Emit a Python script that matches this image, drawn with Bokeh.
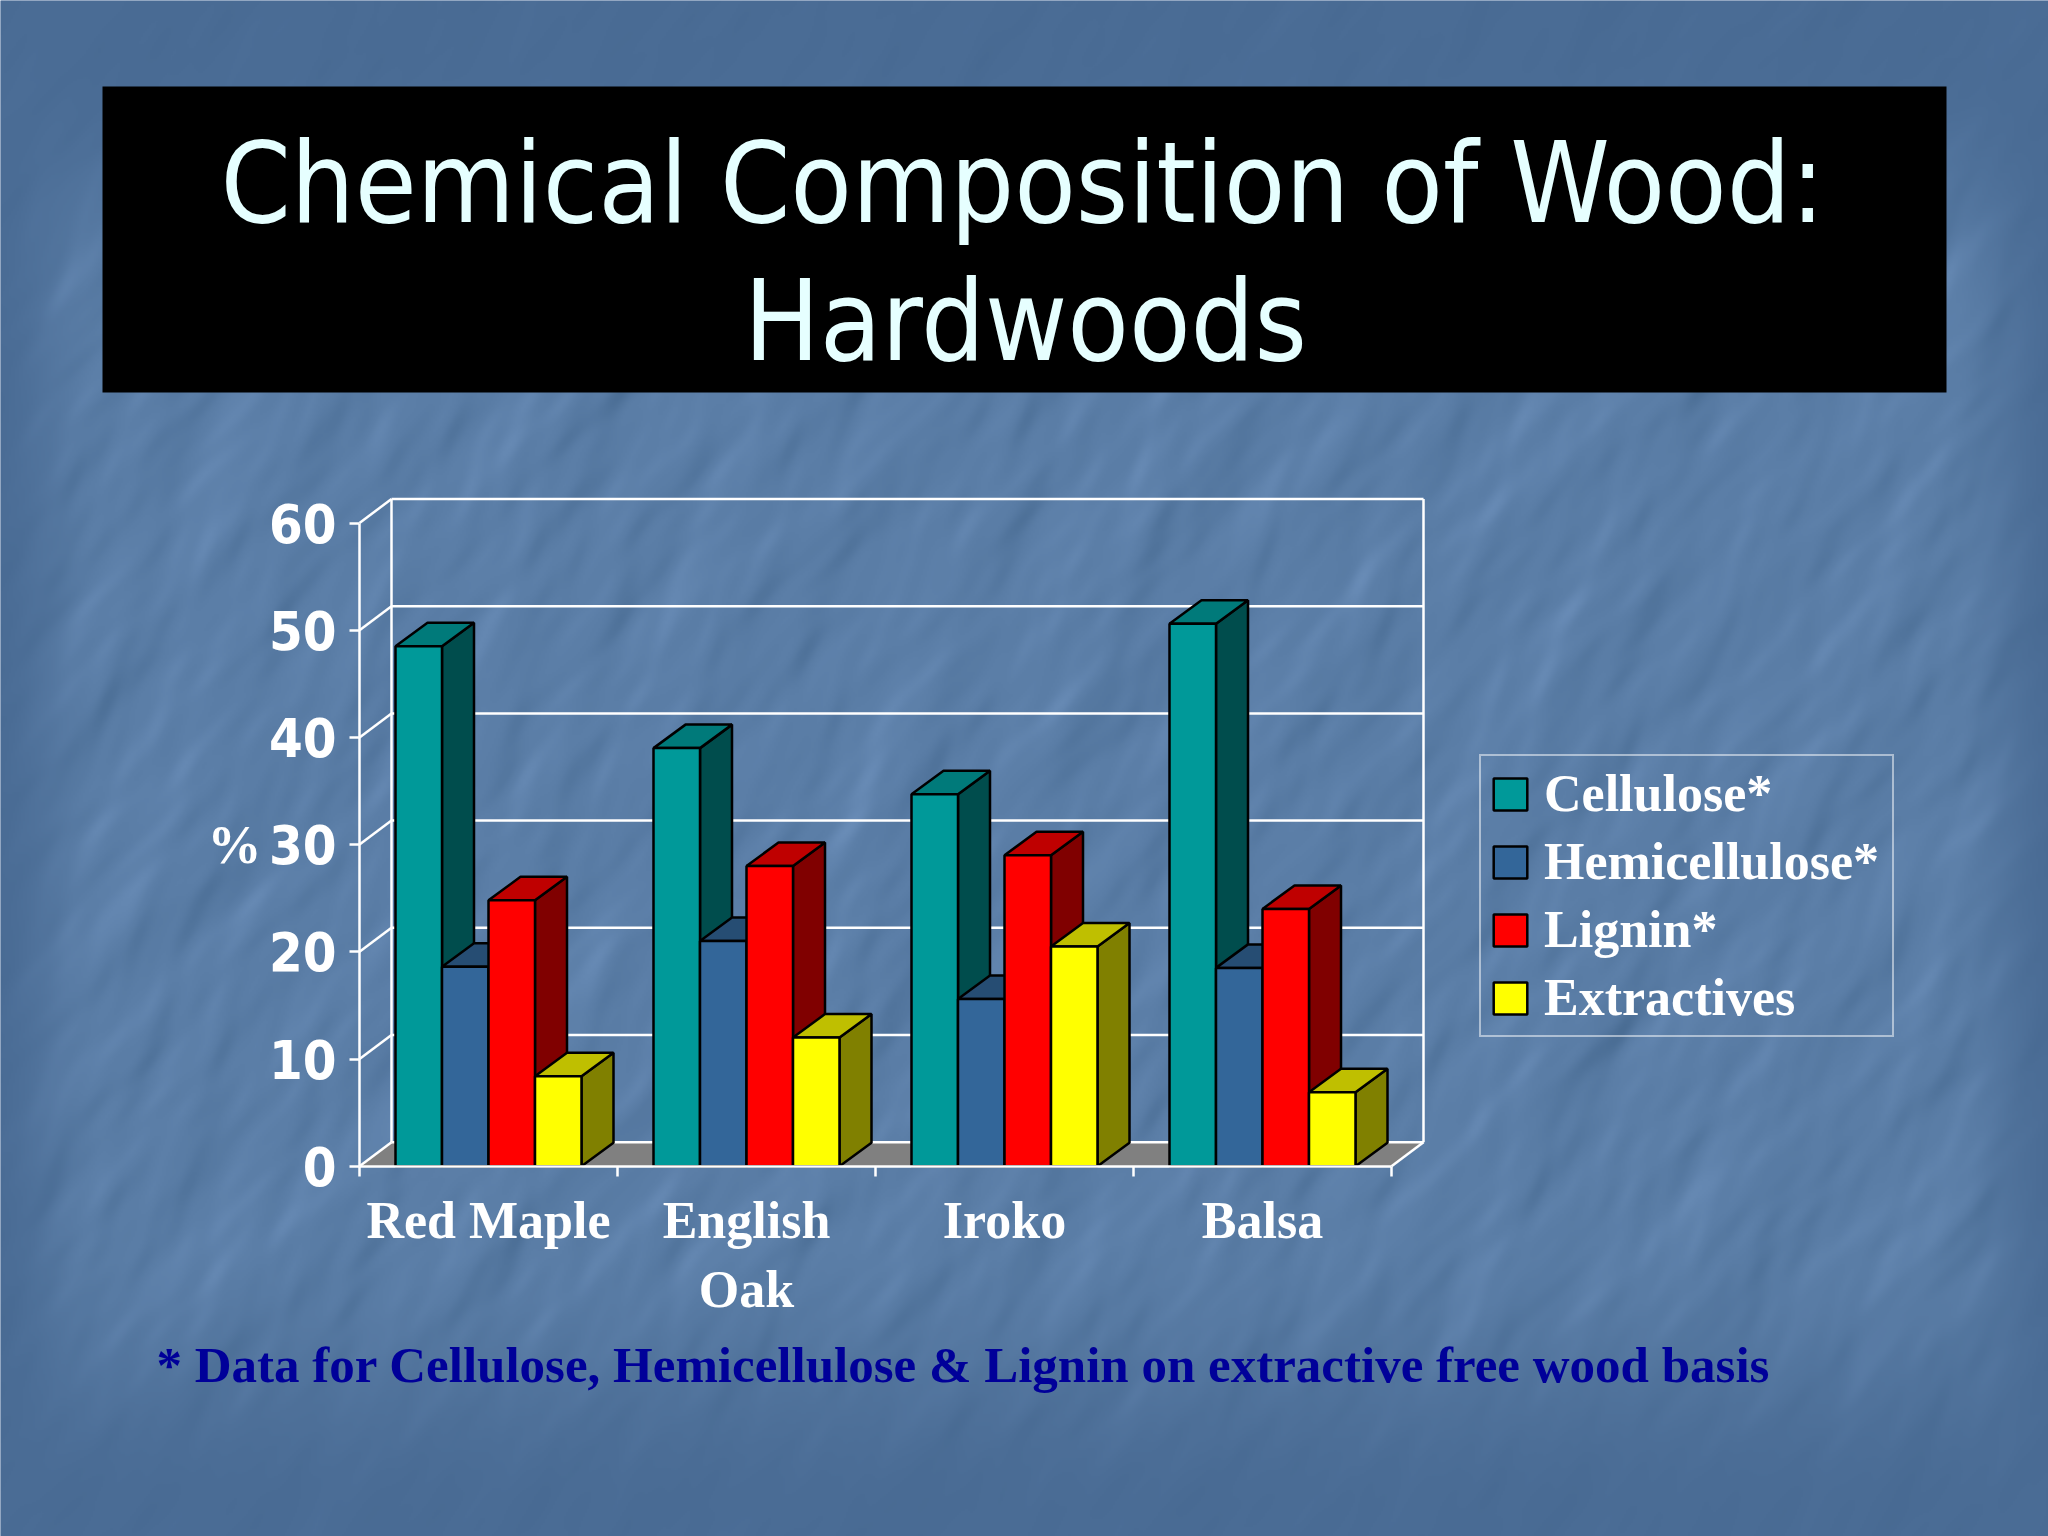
import numpy as np
from bokeh.plotting import figure
from bokeh.embed import file_html
from bokeh.resources import INLINE
from bokeh.core.properties import value
from bokeh.models import Range1d, LinearAxis, FixedTicker, Legend, LegendItem

categories = ["Red Maple", "English\nOak", "Iroko", "Balsa"]
series_names = ["Cellulose*", "Hemicellulose*", "Lignin*", "Extractives"]
cellulose = [48.5, 39.0, 34.7, 50.6]
hemicellulose = [18.6, 21.0, 15.6, 18.5]
lignin = [24.8, 28.0, 29.0, 24.0]
extractives = [8.4, 12.0, 20.5, 6.9]
y_ticks = [0, 10, 20, 30, 40, 50, 60]
title_lines = ["Chemical Composition of Wood:", "Hardwoods"]
footnote = "* Data for Cellulose, Hemicellulose & Lignin on extractive free wood basis"

front_cols = ["#009999", "#336699", "#FF0000", "#FFFF00"]
top_cols = ["#007A7A", "#264D73", "#BF0000", "#BFBF00"]
side_cols = ["#004D4D", "#1A334D", "#800000", "#808000"]

# page-pixel <-> data helpers
X0, XU, Y0, YU = 359.0, 258.0, 1165.7, 10.72
def X(px): return (px - X0) / XU
def Y(py): return (Y0 - py) / YU
DX, DY = 32 / XU, 24 / YU          # 3-D wall depth
BDX, BDY = 32 / XU, 23.5 / YU      # 3-D bar depth
BW = 46.5 / XU
GAP = 36.0 / XU

W, H = 2048, 1536
p = figure(width=W, height=H, output_backend="svg", toolbar_location=None,
           x_range=Range1d(X(0), X(W)), y_range=Range1d(Y(H), Y(0)),
           x_axis_location=None, y_axis_location=None, min_border=0)
p.grid.visible = False
p.outline_line_color = None
p.background_fill_color = "#5A7BA6"
p.border_fill_color = "#5A7BA6"

# textured backdrop: dark border fading into diagonal mottled streaks made of sines
ih, iw = 768, 1024
yy, xx = np.mgrid[0:ih, 0:iw].astype(float)
px, py = xx * 2, yy * 2
def ramp(t):
    t = np.clip(t, 0, 1)
    return t * t * (3 - 2 * t)
lift = (ramp((py - 60) / 260) * ramp((1510 - py) / 280)
        * ramp((px + 10) / 110) * ramp((2058 - px) / 110))
th = np.radians(58)
along = px * np.cos(th) - py * np.sin(th)
across = px * np.sin(th) + py * np.cos(th)
tex = np.zeros_like(px)
for fa, fb, ph, w in [(0.027, 0.0071, 0.3, 0.6), (0.053, 0.0107, 1.9, 0.9), (0.093, 0.019, 4.1, 0.9),
                      (0.151, 0.033, 2.7, 0.7), (0.227, 0.053, 5.3, 0.5)]:
    warp1 = 1.1 * np.sin(along * fb * 0.61 + ph)
    warp2 = 1.3 * np.sin(across * fa * 0.19 + 2 * ph)
    tex += w * np.sin(across * fa + warp1) * np.sin(along * fb + warp2)
tex = tex / 2.0
tex = np.where(tex > 0, tex ** 1.3, -((-tex) ** 1.3))
tex = tex * (0.15 + 0.85 * lift)
rr = 74 + 17 * lift + 9 * tex
gg = 108 + 18 * lift + 9 * tex
bb = 149 + 18 * lift + 10 * tex
img = np.empty((ih, iw), dtype=np.uint32)
view = img.view(dtype=np.uint8).reshape((ih, iw, 4))
view[..., 0] = np.clip(rr, 0, 255)
view[..., 1] = np.clip(gg, 0, 255)
view[..., 2] = np.clip(bb, 0, 255)
view[..., 3] = 255
p.image_rgba(image=[img[::-1]], x=X(0), y=Y(H), dw=W / XU, dh=H / YU, level="image")

# title band
p.quad(left=[X(102)], right=[X(1946)], bottom=[Y(392)], top=[Y(86)],
       fill_color="black", line_color=None, level="underlay")
p.text(x=[X(1022), X(1025)], y=[Y(182), Y(320)], text=title_lines,
       text_color="#E6FFFF", text_font=value("DejaVu Sans Condensed"), text_font_size="112px",
       text_align="center", text_baseline="alphabetic")

# 3-D frame
n = len(categories)
vals = y_ticks
p.patches(xs=[[0, DX, n + DX, n]], ys=[[0, DY, DY, 0]], fill_color="#808080",
          line_color=None, level="underlay")
wall_x = [[DX, n + DX] for t in vals] + [[0, DX] for t in vals] + [[DX, DX], [n + DX, n + DX], [n, n + DX]]
wall_y = [[t + DY, t + DY] for t in vals] + [[t, t + DY] for t in vals] + \
         [[DY, vals[-1] + DY], [DY, vals[-1] + DY], [0, DY]]
p.multi_line(xs=wall_x, ys=wall_y, line_color="white", line_width=2.5, level="underlay")

# bars, left to right so nearer parts cover the ones before
all_series = [cellulose, hemicellulose, lignin, extractives]
renderers = []
for s, (name, data) in enumerate(zip(series_names, all_series)):
    lefts = [i + GAP + s * BW for i in range(n)]
    rights = [l + BW for l in lefts]
    p.patches(xs=[[r, r + BDX, r + BDX, r] for r in rights],
              ys=[[0, BDY, d + BDY, d] for d in data],
              fill_color=side_cols[s], line_color="black", line_width=2.5)
    p.patches(xs=[[l, l + BDX, r + BDX, r] for l, r in zip(lefts, rights)],
              ys=[[d, d + BDY, d + BDY, d] for d in data],
              fill_color=top_cols[s], line_color="black", line_width=2.5)
    renderers.append(p.quad(left=lefts, right=rights, bottom=0, top=data,
                            fill_color=front_cols[s], line_color="black", line_width=2.5))

# axes
yax = LinearAxis(fixed_location=0, ticker=FixedTicker(ticks=y_ticks), bounds=(0, 60))
yax.axis_line_color = "white"; yax.axis_line_width = 2.5
yax.major_tick_line_color = "white"; yax.major_tick_line_width = 2.5
yax.major_tick_in = 0; yax.major_tick_out = 10
yax.minor_tick_line_color = None
yax.major_label_standoff = 13
yax.major_label_text_color = "white"
yax.major_label_text_font = "DejaVu Sans Condensed"
yax.major_label_text_font_style = "bold"
yax.major_label_text_font_size = "54px"
p.add_layout(yax, "left")

xax = LinearAxis(fixed_location=0, bounds=(0, n),
                 ticker=FixedTicker(ticks=[i + 0.5 for i in range(n)], minor_ticks=list(range(n + 1))))
xax.axis_line_color = "white"; xax.axis_line_width = 2.5
xax.major_tick_line_color = None
xax.major_tick_in = 0; xax.major_tick_out = 0
xax.minor_tick_line_color = "white"; xax.minor_tick_line_width = 2.5
xax.minor_tick_in = 0; xax.minor_tick_out = 10
xax.major_label_overrides = {i + 0.5: c for i, c in enumerate(categories)}
xax.major_label_standoff = 16
xax.major_label_text_color = "white"
xax.major_label_text_font = "Liberation Serif"
xax.major_label_text_font_style = "bold"
xax.major_label_text_font_size = "52px"
xax.major_label_orientation = "horizontal"
p.add_layout(xax, "below")

# % label and footnote
p.text(x=[X(234)], y=[30], text=["%"], text_color="white", text_font=value("Liberation Serif"),
       text_font_style="bold", text_font_size="54px", text_align="center", text_baseline="middle")
p.text(x=[X(156)], y=[Y(1364)], text=[footnote], text_color="#000099",
       text_font=value("Liberation Serif"), text_font_style="bold", text_font_size="51px",
       text_align="left", text_baseline="alphabetic")

# legend
legend = Legend(items=[LegendItem(label=nm, renderers=[r]) for nm, r in zip(series_names, renderers)],
                location=(1479, H - 1037), orientation="vertical", margin=0,
                padding=8, spacing=9, glyph_width=42, glyph_height=40, label_width=340,
                label_standoff=13, background_fill_alpha=0, border_line_color="white",
                border_line_width=2.5, label_text_color="white", label_text_font="Liberation Serif",
                label_text_font_style="bold", label_text_font_size="52px", label_text_baseline="middle")
p.add_layout(legend, "center")

html = file_html(p, INLINE)
html = html.replace("<body>", '<body style="margin:0;background:#4A6D96">', 1)
open("out.html", "w").write(html)
